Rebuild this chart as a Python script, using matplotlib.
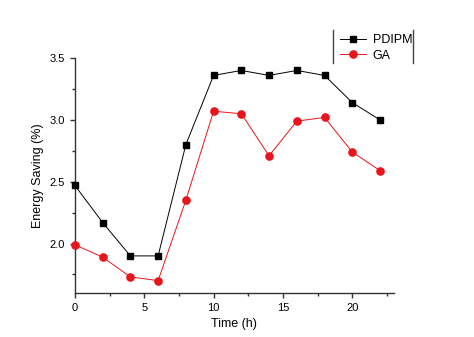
import matplotlib
matplotlib.use("Agg")
import matplotlib.pyplot as plt
from matplotlib.lines import Line2D
from matplotlib.ticker import MultipleLocator

plt.rcParams['font.family'] = ['Liberation Sans', 'DejaVu Sans']

time_h = [0, 2, 4, 6, 8, 10, 12, 14, 16, 18, 20, 22]
pdipm = [2.47, 2.17, 1.90, 1.90, 2.80, 3.36, 3.40, 3.36, 3.40, 3.36, 3.14, 3.00]
ga = [1.99, 1.89, 1.73, 1.70, 2.35, 3.07, 3.05, 2.71, 2.99, 3.02, 2.74, 2.59]

fig = plt.figure(figsize=(4.74, 3.37), dpi=100)
ax = fig.add_axes([0.158, 0.1306, 0.673, 0.697])

ax.plot(time_h, pdipm, color='black', lw=0.7, marker='s', ms=4.3, label='PDIPM', clip_on=False, zorder=3)
ax.plot(time_h, ga, color='#e8141c', lw=0.7, marker='o', ms=5.2, label='GA', clip_on=False, zorder=3)

ax.set_xlim(0, 23)
ax.set_ylim(1.6, 3.5)
ax.xaxis.set_major_locator(MultipleLocator(5))
ax.xaxis.set_minor_locator(MultipleLocator(2.5))
ax.yaxis.set_major_locator(MultipleLocator(0.5))
ax.yaxis.set_minor_locator(MultipleLocator(0.25))
ax.yaxis.set_major_formatter(matplotlib.ticker.FormatStrFormatter('%.1f'))
ax.spines['top'].set_visible(False)
ax.spines['right'].set_visible(False)
for s in ('left', 'bottom'):
    ax.spines[s].set_linewidth(1.0)
    ax.spines[s].set_color('#333333')
ax.tick_params(which='major', direction='out', length=3.5, width=1, labelsize=8, colors='#333333', labelcolor='black')
ax.tick_params(which='minor', direction='out', length=2, width=1, colors='#333333')
ax.set_xlabel('Time (h)', fontsize=9)
ax.set_ylabel('Energy Saving (%)', fontsize=9)

leg = fig.legend(loc='upper left', bbox_to_anchor=(335/474, 1 - 29/337), frameon=False,
                 fontsize=9, handlelength=2.1, handletextpad=0.5, borderaxespad=0,
                 labelspacing=0.3)
for xp in (333, 413):
    fig.add_artist(Line2D([xp/474, xp/474], [1 - 30/337, 1 - 63/337], transform=fig.transFigure,
                          color='#444444', lw=1.0))

fig.savefig('out.png', dpi=100)
